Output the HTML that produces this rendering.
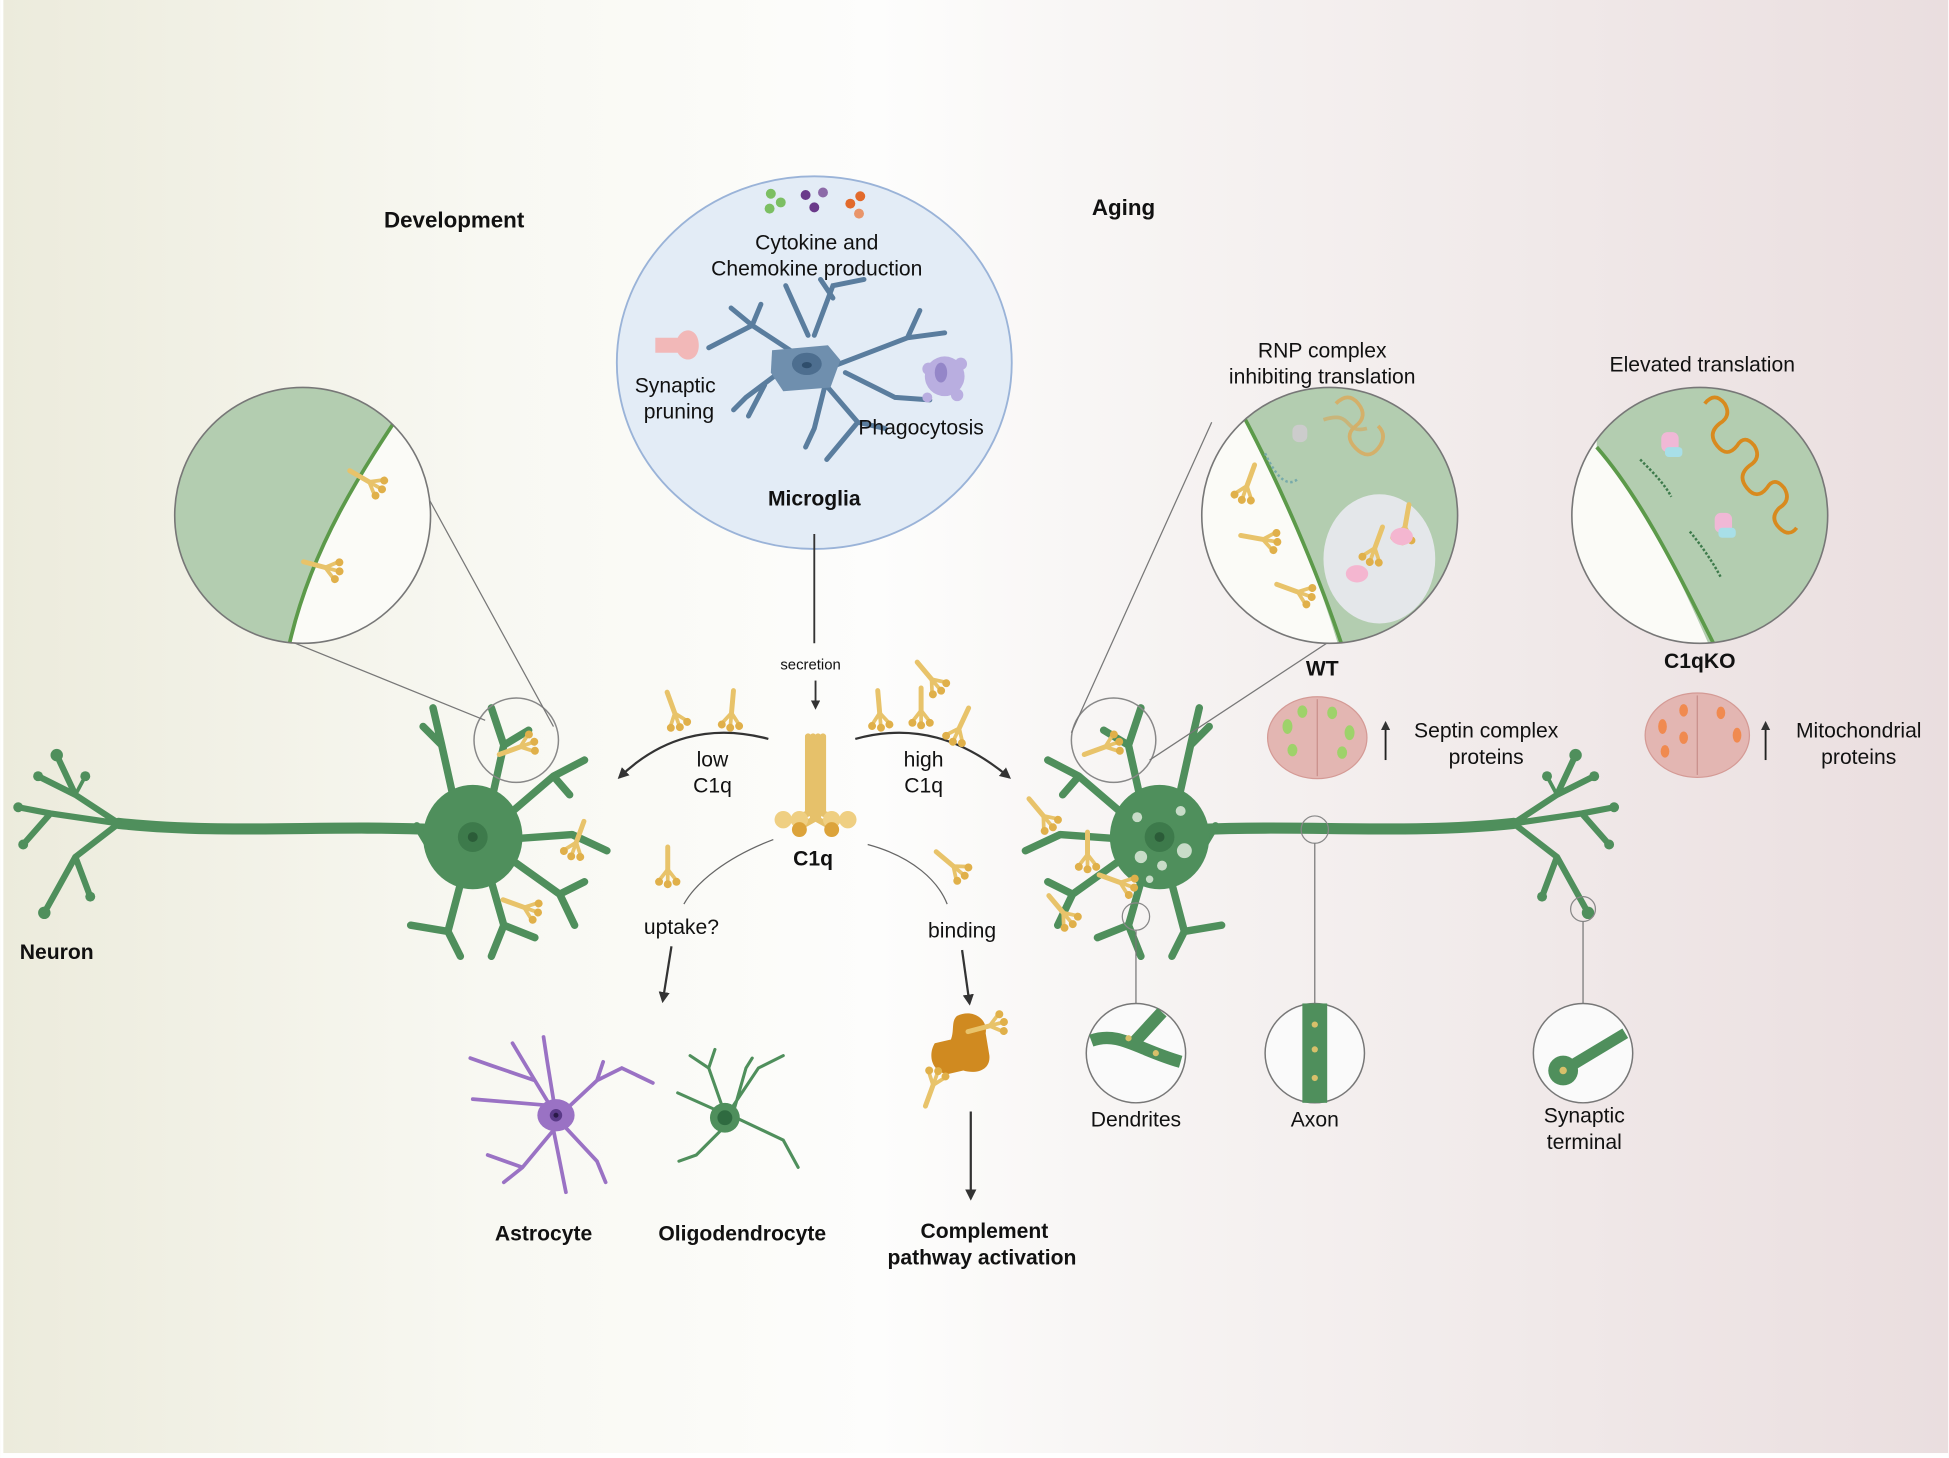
<!DOCTYPE html>
<html><head><meta charset="utf-8"><style>
html,body{margin:0;padding:0;width:1949px;height:1458px;overflow:hidden;background:#fff}
svg{display:block}
text{font-family:"Liberation Sans",sans-serif;fill:#111}
.b{font-weight:bold}
</style></head><body>
<svg width="1949" height="1458" viewBox="0 0 1568 1174" xmlns="http://www.w3.org/2000/svg">
<defs>
<linearGradient id="bg" x1="0" x2="1" y1="0" y2="0">
<stop offset="0" stop-color="#ecebdc"/><stop offset="0.25" stop-color="#f8f8f2"/><stop offset="0.45" stop-color="#fdfdfc"/><stop offset="0.6" stop-color="#f6f3f2"/><stop offset="1" stop-color="#eadedf"/>
</linearGradient>
<marker id="ah" viewBox="0 0 10 10" refX="8" refY="5" markerWidth="5" markerHeight="5" orient="auto"><path d="M0,0 L10,5 L0,10 z" fill="#333"/></marker>
<g id="c1q">
<path d="M0,-22 L0,-2" stroke="#e8c36a" stroke-width="4" stroke-linecap="round"/>
<path d="M0,-4 L-7,5 M0,-4 L0,7 M0,-4 L7,5" stroke="#e8c36a" stroke-width="3" stroke-linecap="round"/>
<circle cx="-7" cy="6" r="3.2" fill="#e0b04a"/><circle cx="0" cy="8" r="3.2" fill="#e0b04a"/><circle cx="7" cy="6" r="3.2" fill="#e0b04a"/>
</g>
<g id="neuron" stroke="#4f8f5c" fill="none" stroke-linecap="round" stroke-linejoin="round">
<path d="M350,668 C260,664 180,672 95,663" stroke-width="9"/>
<path d="M95,663 L60,640 L30,625 M60,640 L45,608 M95,663 L40,655 L14,650 M95,663 L60,690 L35,735 M60,690 L72,722 M40,655 L18,680" stroke-width="5"/>
<g fill="#4f8f5c" stroke="none"><circle cx="45" cy="608" r="5"/><circle cx="30" cy="625" r="4"/><circle cx="14" cy="650" r="4"/><circle cx="18" cy="680" r="4"/><circle cx="35" cy="735" r="5"/><circle cx="72" cy="722" r="4"/><circle cx="68" cy="625" r="4"/></g>
<path d="M60,640 L68,625" stroke-width="3"/>
<path d="M365,645 L355,600 L340,585 M355,600 L348,570 M395,645 L405,600 L395,570 M405,600 L425,588 M410,655 L445,625 L470,612 M445,625 L458,640 M418,675 L460,672 L488,685 M415,695 L450,720 L462,745 M450,720 L470,710 M395,710 L405,745 L395,770 M405,745 L430,755 M370,712 L360,750 L330,745 M360,750 L370,770 M350,690 L335,665" stroke-width="6"/>
<ellipse cx="380" cy="674" rx="40" ry="42" fill="#4f8f5c" stroke="none"/>
<circle cx="380" cy="674" r="12" fill="#3d7a4b" stroke="none"/><circle cx="380" cy="674" r="4" fill="#2b5c38" stroke="none"/>
</g>
</defs>
<rect width="1568" height="1174" fill="url(#bg)"/>
<rect x="0" y="1170" width="1568" height="4" fill="#fff"/>
<rect x="0" y="0" width="2" height="1174" fill="#fff"/>

<text x="365" y="183" font-size="18" text-anchor="middle" class="b">Development</text>
<text x="904" y="173" font-size="18" text-anchor="middle" class="b">Aging</text>

<!-- microglia -->
<ellipse cx="655" cy="292" rx="159" ry="150" fill="#e3ecf6" stroke="#9ab3d8" stroke-width="1.5"/>
<g fill="#7cbf63"><circle cx="620" cy="156" r="4"/><circle cx="628" cy="163" r="4"/><circle cx="619" cy="168" r="4"/></g>
<g fill="#6a3a8a"><circle cx="648" cy="157" r="4"/><circle cx="662" cy="155" r="4" fill="#8c6aa8"/><circle cx="655" cy="167" r="4"/></g>
<g fill="#e26a2c"><circle cx="684" cy="164" r="4"/><circle cx="692" cy="158" r="4"/><circle cx="691" cy="172" r="4" fill="#e9956a"/></g>
<text x="657" y="201" font-size="17" text-anchor="middle">Cytokine and</text>
<text x="657" y="222" font-size="17" text-anchor="middle">Chemokine production</text>
<g stroke="#5a7d9e" fill="none" stroke-width="4" stroke-linecap="round">
<path d="M640,290 L600,320 L590,330 M615,310 L602,335 M640,285 L605,262 L570,280 M605,262 L588,248 M605,262 L612,245 M650,270 L632,230 M655,270 L670,230 L695,225 M670,240 L660,225 M670,295 L730,272 L760,268 M730,272 L740,250 M680,300 L720,320 L748,322 M660,305 L690,340 L665,370 M690,340 L712,345 M665,305 L655,345 L648,360"/>
</g>
<path d="M621,282 L666,278 L676,290 L668,312 L630,315 L620,300z" fill="#6f8fae"/>
<ellipse cx="649" cy="293" rx="12" ry="9" fill="#4d6e8f"/><ellipse cx="649" cy="294" rx="4" ry="2.5" fill="#2f4e6c"/>
<path d="M527,272 L545,272 C550,262 562,265 562,278 C562,291 550,293 545,284 L527,284z" fill="#f2b8b8"/>
<g fill="#b9aee0"><circle cx="760" cy="303" r="16"/><circle cx="747" cy="297" r="5"/><circle cx="773" cy="293" r="5"/><circle cx="770" cy="318" r="5"/><circle cx="746" cy="320" r="4"/></g>
<ellipse cx="757" cy="300" rx="5" ry="8" fill="#9486c8"/>
<text x="543" y="316" font-size="17" text-anchor="middle">Synaptic</text>
<text x="546" y="337" font-size="17" text-anchor="middle">pruning</text>
<text x="741" y="350" font-size="17" text-anchor="middle">Phagocytosis</text>
<text x="655" y="407" font-size="17" text-anchor="middle" class="b">Microglia</text>

<line x1="655" y1="430" x2="655" y2="518" stroke="#333" stroke-width="1.5"/>
<text x="652" y="539" font-size="12" text-anchor="middle">secretion</text>
<line x1="656" y1="548" x2="656" y2="570" stroke="#333" stroke-width="1.5" marker-end="url(#ah)"/>

<!-- central C1q -->
<g stroke="#e6c16a" stroke-width="5" stroke-linecap="round" fill="none">
<path d="M650,593 L650,655 L632,662 M654,593 L654,660 L645,665 M658,593 L658,660 L667,665 M662,593 L662,655 L680,662"/>
</g>
<g fill="#efcf82"><circle cx="630" cy="660" r="7"/><circle cx="682" cy="660" r="7"/><circle cx="643" cy="660" r="7"/><circle cx="669" cy="660" r="7"/></g>
<circle cx="643" cy="668" r="6" fill="#dca33a"/><circle cx="669" cy="668" r="6" fill="#dca33a"/>
<text x="654" y="697" font-size="17" text-anchor="middle" class="b">C1q</text>

<path d="M618,595 C570,582 530,595 498,626" fill="none" stroke="#333" stroke-width="1.8" marker-end="url(#ah)"/>
<path d="M688,595 C735,582 775,595 812,626" fill="none" stroke="#333" stroke-width="1.8" marker-end="url(#ah)"/>
<text x="573" y="617" font-size="17" text-anchor="middle">low</text>
<text x="573" y="638" font-size="17" text-anchor="middle">C1q</text>
<text x="743" y="617" font-size="17" text-anchor="middle">high</text>
<text x="743" y="638" font-size="17" text-anchor="middle">C1q</text>
<path d="M622,676 C585,690 560,710 550,728" fill="none" stroke="#666" stroke-width="1"/>
<path d="M698,680 C735,690 755,710 762,728" fill="none" stroke="#666" stroke-width="1"/>
<text x="548" y="752" font-size="17" text-anchor="middle">uptake?</text>
<text x="774" y="755" font-size="17" text-anchor="middle">binding</text>
<line x1="540" y1="762" x2="533" y2="806" stroke="#333" stroke-width="1.8" marker-end="url(#ah)"/>
<line x1="774" y1="765" x2="780" y2="808" stroke="#333" stroke-width="1.8" marker-end="url(#ah)"/>

<g>
<use href="#c1q" transform="translate(544,578) rotate(-20)"/>
<use href="#c1q" transform="translate(588,578) rotate(5)"/>
<use href="#c1q" transform="translate(708,578) rotate(-5)"/>
<use href="#c1q" transform="translate(741,576)"/>
<use href="#c1q" transform="translate(770,590) rotate(25)"/>
<use href="#c1q" transform="translate(752,550) rotate(-40)"/>
<use href="#c1q" transform="translate(537,704)"/>
<use href="#c1q" transform="translate(770,700) rotate(-50)"/>
</g>

<!-- left neuron -->
<use href="#neuron"/>
<use href="#c1q" transform="translate(422,600) rotate(-110)"/>
<use href="#c1q" transform="translate(462,682) rotate(20)"/>
<use href="#c1q" transform="translate(425,732) rotate(-70)"/>
<circle cx="415" cy="596" r="34" fill="none" stroke="#888" stroke-width="1.2"/>
<line x1="205" y1="505" x2="390" y2="580" stroke="#777" stroke-width="1"/>
<line x1="330" y1="375" x2="445" y2="585" stroke="#777" stroke-width="1"/>
<clipPath id="cl1"><circle cx="243" cy="415" r="103"/></clipPath>
<g clip-path="url(#cl1)">
<rect x="130" y="300" width="230" height="230" fill="#fbfbf7"/>
<path d="M130,300 L340,300 L330,320 C290,380 250,440 232,520 L130,520z" fill="#b3cdb0"/>
<path d="M330,320 C290,380 250,440 232,520" fill="none" stroke="#5c9a4a" stroke-width="3"/>
</g>
<circle cx="243" cy="415" r="103" fill="none" stroke="#777" stroke-width="1.3"/>
<use href="#c1q" transform="translate(300,390) rotate(-60)"/>
<use href="#c1q" transform="translate(265,458) rotate(-75)"/>
<text x="45" y="772" font-size="17" text-anchor="middle" class="b">Neuron</text>

<!-- right neuron -->
<g transform="translate(1313,0) scale(-1,1)"><use href="#neuron"/></g>
<g fill="#c8dcc8"><circle cx="915" cy="658" r="4"/><circle cx="918" cy="690" r="5"/><circle cx="935" cy="697" r="4"/><circle cx="953" cy="685" r="6"/><circle cx="950" cy="653" r="4"/><circle cx="925" cy="708" r="3"/></g>
<use href="#c1q" transform="translate(893,600) rotate(-110)"/>
<use href="#c1q" transform="translate(842,660) rotate(-40)"/>
<use href="#c1q" transform="translate(875,692)"/>
<use href="#c1q" transform="translate(858,738) rotate(-40)"/>
<use href="#c1q" transform="translate(905,712) rotate(-70)"/>
<circle cx="896" cy="596" r="34" fill="none" stroke="#888" stroke-width="1.2"/>
<line x1="862" y1="590" x2="975" y2="340" stroke="#777" stroke-width="1"/>
<line x1="925" y1="612" x2="1110" y2="490" stroke="#777" stroke-width="1"/>

<clipPath id="cl2"><circle cx="1070" cy="415" r="103"/></clipPath>
<g clip-path="url(#cl2)">
<rect x="960" y="300" width="230" height="230" fill="#fbfbf7"/>
<path d="M1000,300 L1190,300 L1190,530 L1080,530 C1060,460 1030,390 1000,330z" fill="#b3cdb0"/>
<path d="M998,330 C1030,390 1060,460 1080,520" fill="none" stroke="#5c9a4a" stroke-width="3"/>
<ellipse cx="1110" cy="450" rx="45" ry="52" fill="#e4e7ea"/>
<path d="M1065,338 C1090,330 1080,350 1100,345" fill="none" stroke="#c9b57a" stroke-width="3"/>
<path d="M1075,325 q10,-10 18,0 q8,10 -2,18 q-10,8 0,18 q10,10 18,0 q8,-10 0,-18" fill="none" stroke="#d4b06a" stroke-width="3"/>
<path d="M1018,365 C1025,380 1035,395 1045,385" fill="none" stroke="#7aa" stroke-width="2" stroke-dasharray="2 2"/>
<rect x="1040" y="342" width="12" height="14" rx="5" fill="#ccc"/>
<use href="#c1q" transform="translate(1105,445) rotate(20)"/>
<use href="#c1q" transform="translate(1130,428) rotate(10)"/>
<ellipse cx="1128" cy="432" rx="9" ry="7" fill="#f4b6d0"/>
<ellipse cx="1092" cy="462" rx="9" ry="7" fill="#f4b6d0"/>
</g>
<circle cx="1070" cy="415" r="103" fill="none" stroke="#777" stroke-width="1.3"/>
<use href="#c1q" transform="translate(1002,395) rotate(20)"/>
<use href="#c1q" transform="translate(1020,435) rotate(-80)"/>
<use href="#c1q" transform="translate(1048,478) rotate(-70)"/>
<text x="1064" y="288" font-size="17" text-anchor="middle">RNP complex</text>
<text x="1064" y="309" font-size="17" text-anchor="middle">inhibiting translation</text>
<text x="1064" y="544" font-size="17" text-anchor="middle" class="b">WT</text>

<clipPath id="cl3"><circle cx="1368" cy="415" r="103"/></clipPath>
<g clip-path="url(#cl3)">
<rect x="1260" y="300" width="230" height="230" fill="#fbfbf7"/>
<path d="M1285,300 L1480,300 L1480,530 L1380,530 C1350,460 1320,400 1285,360z" fill="#b3cdb0"/>
<path d="M1285,360 C1320,400 1350,460 1380,520" fill="none" stroke="#5c9a4a" stroke-width="3"/>
<path d="M1320,370 C1330,380 1340,390 1345,400 M1360,428 C1370,440 1380,455 1385,465" fill="none" stroke="#3d7a4b" stroke-width="2" stroke-dasharray="2 1.5"/>
<path d="M1372,325 q8,-10 16,0 q6,10 -4,16 q-10,8 -2,18 q8,10 16,0 q6,-10 14,0 q6,10 -4,16 q-10,8 -2,18 q8,10 16,0 q6,-10 14,0 q6,10 -4,16 q-8,8 0,16 q8,8 14,0" fill="none" stroke="#d88a1e" stroke-width="3"/>
<rect x="1337" y="348" width="14" height="16" rx="5" fill="#f0b8d6"/><rect x="1340" y="360" width="14" height="8" rx="3" fill="#a8dfe8"/>
<rect x="1380" y="413" width="14" height="16" rx="5" fill="#f0b8d6"/><rect x="1383" y="425" width="14" height="8" rx="3" fill="#a8dfe8"/>
</g>
<circle cx="1368" cy="415" r="103" fill="none" stroke="#777" stroke-width="1.3"/>
<text x="1370" y="299" font-size="17" text-anchor="middle">Elevated translation</text>
<text x="1368" y="538" font-size="17" text-anchor="middle" class="b">C1qKO</text>

<!-- brains -->
<g>
<ellipse cx="1060" cy="594" rx="40" ry="33" fill="#e3b6b2" stroke="#d49a95"/>
<line x1="1060" y1="563" x2="1060" y2="625" stroke="#c98f8a"/>
<g fill="#9ed26a"><ellipse cx="1036" cy="585" rx="4" ry="6"/><ellipse cx="1048" cy="573" rx="4" ry="5"/><ellipse cx="1072" cy="574" rx="4" ry="5"/><ellipse cx="1086" cy="590" rx="4" ry="6"/><ellipse cx="1040" cy="604" rx="4" ry="5"/><ellipse cx="1080" cy="606" rx="4" ry="5"/></g>
<line x1="1115" y1="612" x2="1115" y2="582" stroke="#222" stroke-width="1.5" marker-end="url(#ah)"/>
<text x="1196" y="594" font-size="17" text-anchor="middle">Septin complex</text>
<text x="1196" y="615" font-size="17" text-anchor="middle">proteins</text>
<ellipse cx="1366" cy="592" rx="42" ry="34" fill="#e3b6b2" stroke="#d49a95"/>
<line x1="1366" y1="560" x2="1366" y2="624" stroke="#c98f8a"/>
<g fill="#f08a50"><ellipse cx="1338" cy="585" rx="3.5" ry="6"/><ellipse cx="1355" cy="572" rx="3.5" ry="5"/><ellipse cx="1385" cy="574" rx="3.5" ry="5"/><ellipse cx="1398" cy="592" rx="3.5" ry="6"/><ellipse cx="1340" cy="605" rx="3.5" ry="5"/><ellipse cx="1355" cy="594" rx="3.5" ry="5"/></g>
<line x1="1421" y1="612" x2="1421" y2="582" stroke="#222" stroke-width="1.5" marker-end="url(#ah)"/>
<text x="1496" y="594" font-size="17" text-anchor="middle">Mitochondrial</text>
<text x="1496" y="615" font-size="17" text-anchor="middle">proteins</text>
</g>

<!-- detail circles -->
<circle cx="914" cy="738" r="11" fill="none" stroke="#888"/>
<circle cx="1058" cy="668" r="11" fill="none" stroke="#888"/>
<circle cx="1274" cy="732" r="10" fill="none" stroke="#888"/>
<line x1="914" y1="749" x2="914" y2="808" stroke="#777"/>
<line x1="1058" y1="679" x2="1058" y2="808" stroke="#777"/>
<line x1="1274" y1="742" x2="1274" y2="808" stroke="#777"/>
<circle cx="914" cy="848" r="40" fill="#fafafa" stroke="#777" stroke-width="1.2"/>
<path d="M878,838 C900,830 915,845 950,855 M912,840 L935,815" fill="none" stroke="#4f8f5c" stroke-width="10"/>
<circle cx="1058" cy="848" r="40" fill="#fafafa" stroke="#777" stroke-width="1.2"/>
<rect x="1048" y="808" width="20" height="80" fill="#4f8f5c"/>
<circle cx="1274" cy="848" r="40" fill="#fafafa" stroke="#777" stroke-width="1.2"/>
<path d="M1258,862 L1308,832" stroke="#4f8f5c" stroke-width="9"/>
<circle cx="1258" cy="862" r="12" fill="#4f8f5c"/>
<g fill="#d8c06a"><circle cx="1058" cy="825" r="2.5"/><circle cx="1058" cy="845" r="2.5"/><circle cx="1058" cy="868" r="2.5"/><circle cx="908" cy="836" r="2.5"/><circle cx="930" cy="848" r="2.5"/><circle cx="1258" cy="862" r="3"/></g>
<text x="914" y="907" font-size="17" text-anchor="middle">Dendrites</text>
<text x="1058" y="907" font-size="17" text-anchor="middle">Axon</text>
<text x="1275" y="904" font-size="17" text-anchor="middle">Synaptic</text>
<text x="1275" y="925" font-size="17" text-anchor="middle">terminal</text>

<!-- astrocyte -->
<g stroke="#9a72c4" stroke-width="3" fill="none" stroke-linecap="round">
<path d="M447,898 L430,870 L412,840 M430,870 L395,858 L378,852 M440,890 L380,885 M447,898 L440,855 L437,835 M450,898 L480,870 L500,860 L525,872 M480,870 L485,855 M452,905 L480,935 L487,952 M445,910 L420,940 L405,952 M445,910 L455,960 M420,940 L392,930"/>
</g>
<ellipse cx="447" cy="898" rx="15" ry="13" fill="#9a72c4"/><circle cx="447" cy="898" r="5" fill="#5a3a88"/><circle cx="447" cy="898" r="2" fill="#2a1a48"/>
<!-- oligodendrocyte -->
<g stroke="#4f8f5c" stroke-width="2.5" fill="none" stroke-linecap="round">
<path d="M583,897 L570,860 L575,845 M570,860 L555,850 M583,897 L545,880 M590,890 L610,860 L630,850 M592,900 L630,918 L642,940 M585,905 L560,930 L546,935 M590,895 L600,860 L605,852"/>
</g>
<circle cx="583" cy="900" r="12" fill="#4f8f5c"/><circle cx="583" cy="900" r="6" fill="#2f6b40"/>
<text x="437" y="999" font-size="17" text-anchor="middle" class="b">Astrocyte</text>
<text x="597" y="999" font-size="17" text-anchor="middle" class="b">Oligodendrocyte</text>

<!-- complement -->
<path d="M770,818 C782,812 795,820 793,832 L796,850 C797,862 785,865 775,862 L762,865 C748,862 747,848 752,840 L765,837 C768,830 765,822 770,818z" fill="#d08a20"/>
<use href="#c1q" transform="translate(800,825) rotate(-105)"/>
<use href="#c1q" transform="translate(752,870) rotate(200)"/>
<line x1="781" y1="895" x2="781" y2="965" stroke="#333" stroke-width="1.8" marker-end="url(#ah)"/>
<text x="792" y="997" font-size="17" text-anchor="middle" class="b">Complement</text>
<text x="790" y="1018" font-size="17" text-anchor="middle" class="b">pathway activation</text>
</svg>
</body></html>
